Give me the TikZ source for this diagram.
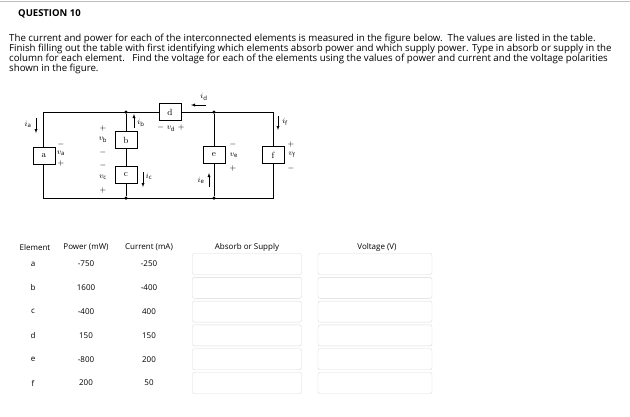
\documentclass[tikz,border=0pt]{standalone}
\usepackage{fontspec}
\setmainfont{Open Sans}
\begin{document}
\begin{tikzpicture}[x=1pt,y=-1pt,
  el/.style={draw,fill=white,minimum width=22pt,minimum height=17pt,inner sep=0pt,font=\rmfamily\fontspec{Latin Modern Roman}\small},
  lab/.style={inner sep=0pt,font=\fontspec{Latin Modern Roman}\footnotesize},
  txt/.style={anchor=west,inner sep=0pt,font=\fontsize{9.7}{10}\selectfont},
  tb/.style={inner sep=0pt,font=\fontsize{8}{9}\selectfont},
  inbox/.style={draw=black!15,rounded corners=2pt,minimum width=109pt,minimum height=21pt,inner sep=0pt},
  dot/.style={circle,fill,inner sep=0pt,minimum size=3.5pt},
  cur/.style={-latex,thin}]
\useasboundingbox (0,0) rectangle (630,416);
\draw[black!25] (0,1) -- (630,1);
\node[txt,font=\bfseries\fontsize{9.5}{10}\selectfont] (title) at (18,14) {QUESTION 10};
\node[txt] (l1) at (9,39) {The current and power for each of the interconnected elements is measured in the figure below.\ \ The values are listed in the table.};
\node[txt] (l2) at (9,49) {Finish filling out the table with first identifying which elements absorb power and which supply power. Type in absorb or supply in the};
\node[txt] (l3) at (9,59) {column for each element.\ \ \ Find the voltage for each of the elements using the values of power and current and the voltage polarities};
\node[txt] (l4) at (9,69) {shown in the figure.};
% circuit
\coordinate (tl) at (43,112); \coordinate (bl) at (43,198);
\coordinate (tr) at (273,112); \coordinate (br) at (273,198);
\node[dot] (bt) at (126,112) {}; \node[dot] (bb) at (126,198) {};
\node[dot] (et) at (214,112) {}; \node[dot] (eb) at (214,198) {};
\draw (tl) -- (tr) -- (br) -- (bl) -- cycle;
\draw (bt) -- (bb); \draw (et) -- (eb);
\node[el] (a) at (44,156) {a};
\node[el] (b) at (126,140) {b};
\node[el] (c) at (126,175) {c};
\node[el] (d) at (170,112) {d};
\node[el] (e) at (214,155) {e};
\node[el] (f) at (273,155) {f};
% labels
\coordinate (ia1) at (36,118); \coordinate (ia2) at (36,133); \draw[cur] (ia1) -- (ia2);
\node[lab] (ia) at (28,124) {$i_{\mathrm a}$};
\node[lab] (am) at (61,144) {$-$}; \node[lab] (av) at (61,153) {$v_{\mathrm a}$}; \node[lab] (ap) at (61,163) {$+$};
\node[lab] (bp) at (103,128) {$+$}; \node[lab] (bv) at (103,140) {$v_{\mathrm b}$}; \node[lab] (bm) at (103,152) {$-$};
\node[lab] (cm) at (103,165) {$-$}; \node[lab] (cv) at (103,177) {$v_{\mathrm c}$}; \node[lab] (cp) at (103,190) {$+$};
\coordinate (ib1) at (134,128); \coordinate (ib2) at (134,114); \draw[cur] (ib1) -- (ib2);
\node[lab] (ib) at (141,123) {$i_{\mathrm b}$};
\coordinate (ic1) at (143,172); \coordinate (ic2) at (143,187); \draw[cur] (ic1) -- (ic2);
\node[lab] (ic) at (149,176) {$i_{\mathrm c}$};
\node[lab] (vd) at (171,128) {$-\ v_{\mathrm d}\ +$};
\coordinate (id1) at (206,105); \coordinate (id2) at (191,105); \draw[cur] (id1) -- (id2);
\node[lab] (id) at (204,97) {$i_{\mathrm d}$};
\node[lab] (em) at (233,144) {$-$}; \node[lab] (ev) at (234,155) {$v_{\mathrm e}$}; \node[lab] (ep) at (233,168) {$+$};
\coordinate (ie1) at (209,187); \coordinate (ie2) at (209,173); \draw[cur] (ie1) -- (ie2);
\node[lab] (ie) at (201,180) {$i_{\mathrm e}$};
\coordinate (if1) at (278,116); \coordinate (if2) at (278,130); \draw[cur] (if1) -- (if2);
\node[lab] (if) at (285,122) {$i_{\mathrm f}$};
\node[lab] (fp) at (291,144) {$+$}; \node[lab] (fv) at (292,155) {$v_{\mathrm f}$}; \node[lab] (fm) at (291,168) {$-$};
% table
\node[tb] (h1) at (35,247) {Element};
\node[tb] (h2) at (86,247) {Power (mW)};
\node[tb] (h3) at (149,247) {Current (mA)};
\node[tb] (h4) at (247,247) {Absorb or Supply};
\node[tb] (h5) at (377,247) {Voltage (V)};
\foreach \n/\p/\c [count=\i from 0] in {a/-750/-250,b/1600/-400,c/-400/400,d/150/150,e/-800/200,f/200/50}{
  \node[tb] (r\i a) at (33,{264+23.8*\i}) {\n};
  \node[tb] (r\i b) at (86,{264+23.8*\i}) {\p};
  \node[tb] (r\i c) at (149,{264+23.8*\i}) {\c};
  \node[inbox] (r\i d) at (247,{264+23.8*\i}) {};
  \node[inbox,minimum width=114pt] (r\i e) at (375,{264+23.8*\i}) {};
}
\end{tikzpicture}
\end{document}
